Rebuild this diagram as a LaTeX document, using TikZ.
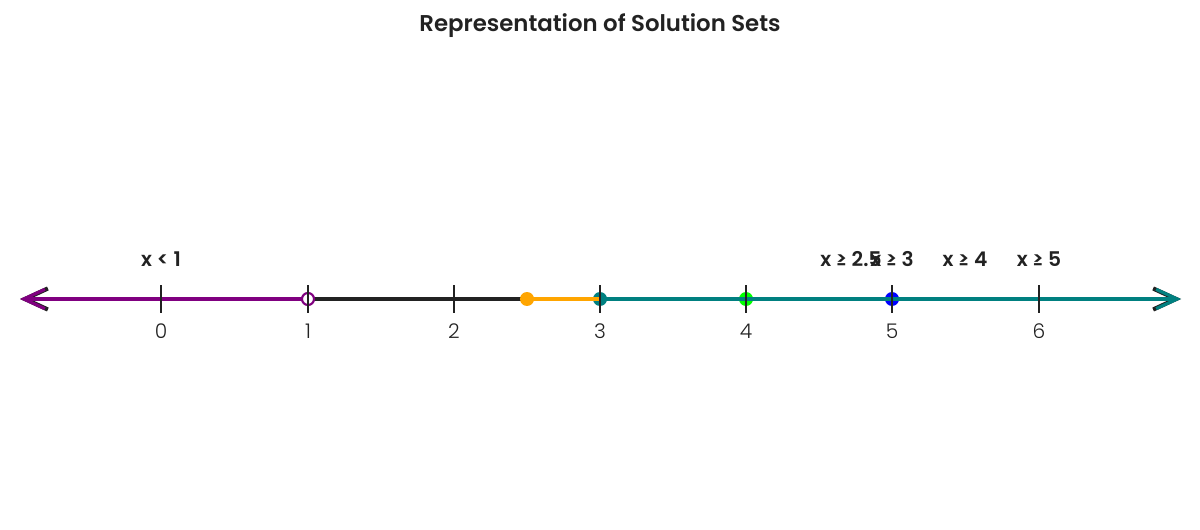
\documentclass[tikz,border=0pt]{standalone}
\usepackage{fontspec}
\setmainfont{Poppins}
\newfontfamily\medf{Poppins SemiBold}
\newfontfamily\lightf{Poppins Light}
\usetikzlibrary{arrows.meta}
\definecolor{ink}{HTML}{222222}
\definecolor{purp}{HTML}{800080}
\definecolor{teal2}{HTML}{008080}
\definecolor{orng}{HTML}{FFA500}
\definecolor{lime2}{HTML}{00FF00}
\definecolor{blu}{HTML}{0000FF}
\tikzset{
  axisline/.style={line width=2.4pt, ink},
  seg/.style={line width=2.2pt},
  chev/.style={-{Straight Barb[length=13pt,width=12pt,line width=2.4pt]}},
  colchev/.style={-{Straight Barb[length=12pt,width=11pt,line width=1.8pt]}},
  tick/.style={line width=0.8pt, ink},
  ticklbl/.style={font=\lightf\fontsize{11.5}{13}\selectfont, text=ink, anchor=center},
  setlbl/.style={font=\medf\fontsize{11.5}{14}\selectfont, text=ink, anchor=center},
  dot/.style={circle, inner sep=0pt, minimum size=0.28cm},
}
\begin{document}
\begin{tikzpicture}[x=0.02cm,y=-0.02cm]
\useasboundingbox (0,0) rectangle (1200,530);
% number positions
\foreach \v/\px in {0/161,1/308,2/454,3/600,4/746,5/892,6/1039}{
  \coordinate (p\v) at (\px,299);
}
\coordinate (lend) at (20,299);
\coordinate (rend) at (1181,299);
\coordinate (p25) at (527,299);
% base axis
\draw[axisline, chev] (p1) -- (lend);
\draw[axisline, chev] (p1) -- (rend);
% filled dots under lines
\node[dot, fill=lime2] (d4) at (p4) {};
\node[dot, fill=blu] (d5) at (p5) {};
\node[dot, fill=teal2] (d3) at (p3) {};
% teal ray
\draw[seg, teal2, colchev] (p3) -- (rend);
% orange segment
\draw[line width=1.8pt, orng] (p25) -- (p3);
\node[dot, fill=orng] (d25) at (p25) {};
% purple ray
\draw[seg, purp, colchev] (p1) -- (lend);
\node[dot, minimum size=0.24cm, draw=purp, line width=1.2pt, fill=white] (d1) at (p1) {};
% ticks and labels
\foreach \v in {0,...,6}{
  \draw[tick] ([yshift=0.28cm]p\v) -- ([yshift=-0.28cm]p\v);
  \node[ticklbl] (t\v) at ([yshift=-0.64cm]p\v) {\v};
}
% set labels
\node[setlbl] (l1) at (161,259) {x < 1};
\node[setlbl] (l25) at (851,259) {x ≥ 2.5};
\node[setlbl] (l3) at (892,259) {x ≥ 3};
\node[setlbl] (l4) at (965,259) {x ≥ 4};
\node[setlbl] (l5) at (1039,259) {x ≥ 5};
% title
\node[font=\medf\fontsize{13}{15}\selectfont, text=ink] (title) at (600,26) {Representation of Solution Sets};
\end{tikzpicture}
\end{document}
